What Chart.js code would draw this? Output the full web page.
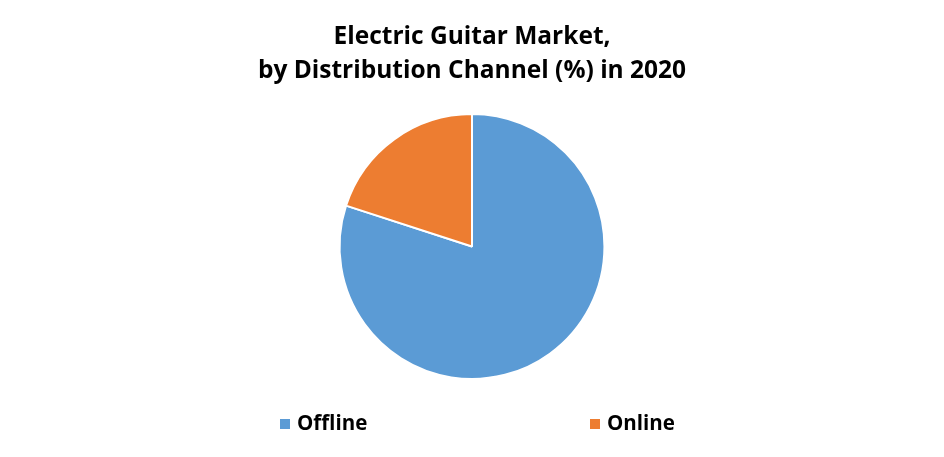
<!DOCTYPE html>
<html>
<head>
<meta charset="utf-8">
<script src="https://cdn.jsdelivr.net/npm/chart.js@4.4.1/dist/chart.umd.min.js"></script>
<style>
  html, body { margin: 0; padding: 0; background: #ffffff; }
  #wrap { width: 944px; height: 457px; }
</style>
</head>
<body>
<div id="wrap"><canvas id="pieChart" width="944" height="457"></canvas></div>
<script>
// Distribution channel shares (%)
const channels = ['Offline', 'Online'];
const shares = [80, 20];
const channelColors = ['#5B9BD5', '#ED7D31'];
const titleLines = ['Electric Guitar Market,', 'by Distribution Channel (%) in 2020'];

// Legend drawn on the canvas, items spread wide like the original
const wideLegend = {
  id: 'wideLegend',
  afterDraw(chart) {
    const ctx = chart.ctx;
    const xs = [280, 590];
    const y = 424;
    ctx.save();
    ctx.font = 'bold 20.5px "Open Sans"';
    ctx.textBaseline = 'middle';
    chart.data.labels.forEach((label, i) => {
      ctx.fillStyle = chart.data.datasets[0].backgroundColor[i];
      ctx.fillRect(xs[i], y - 5, 10, 10);
      ctx.fillStyle = '#000000';
      ctx.fillText(label, xs[i] + 17, y);
    });
    ctx.restore();
  }
};

const ctx = document.getElementById('pieChart').getContext('2d');
new Chart(ctx, {
  type: 'pie',
  data: {
    labels: channels,
    datasets: [{
      data: shares,
      backgroundColor: channelColors,
      borderColor: '#ffffff',
      borderWidth: 2
    }]
  },
  options: {
    responsive: false,
    animation: false,
    layout: { padding: { top: 0, bottom: 77 } },
    plugins: {
      legend: { display: false },
      tooltip: { enabled: false },
      title: {
        display: true,
        text: titleLines,
        color: '#000000',
        font: { family: '"Open Sans"', size: 24.5, weight: 'bold', lineHeight: 1.39 },
        padding: { top: 20, bottom: 25 }
      }
    }
  },
  plugins: [wideLegend]
});
</script>
</body>
</html>
